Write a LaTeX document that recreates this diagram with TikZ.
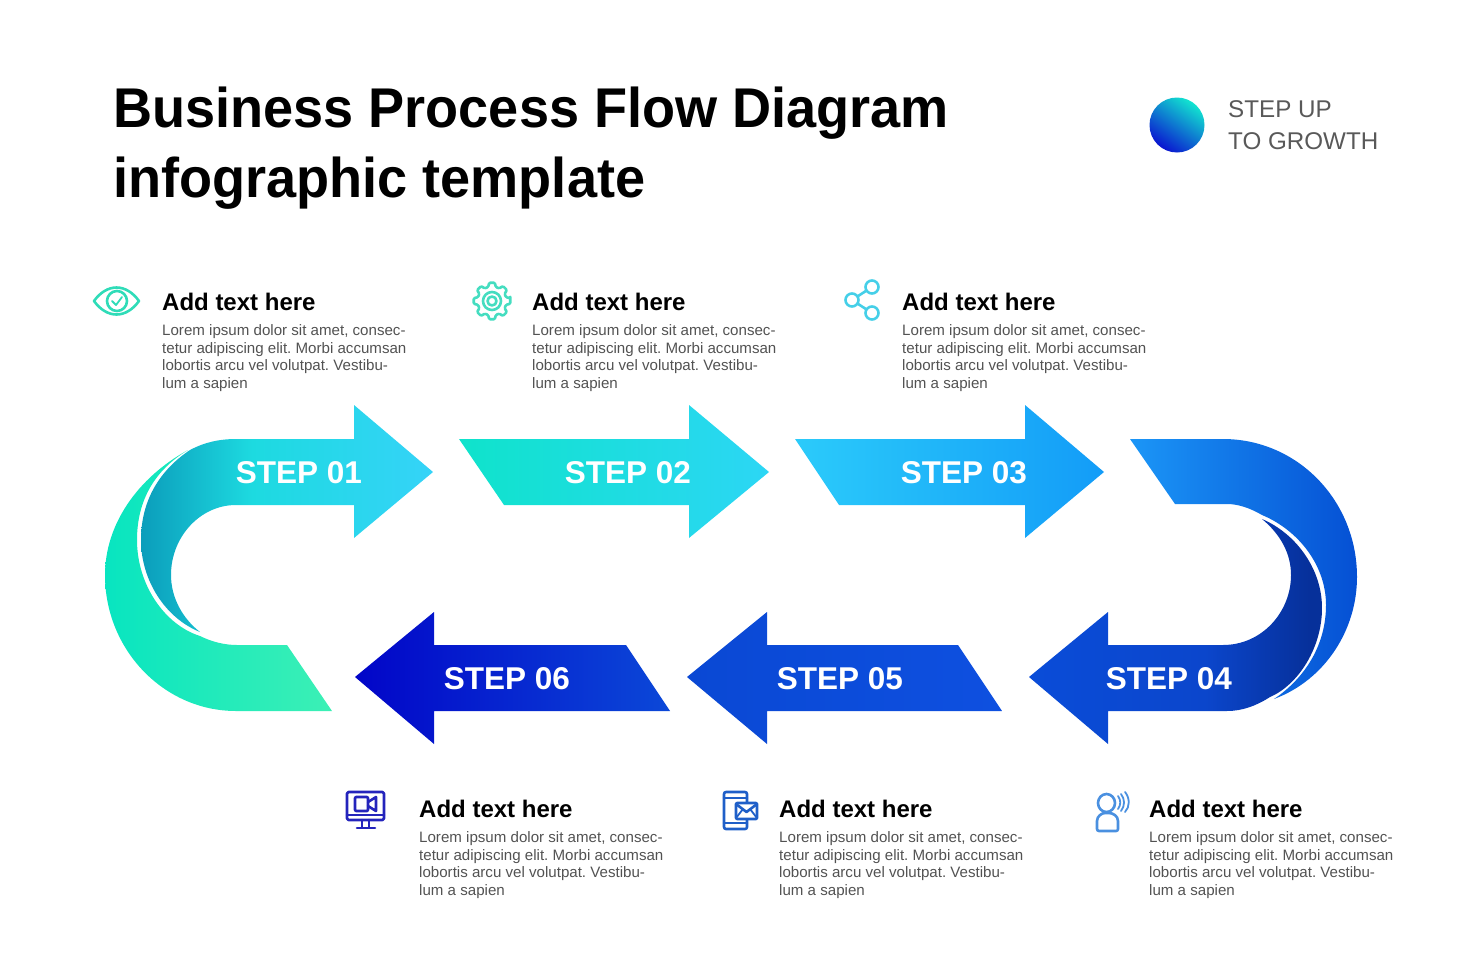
\documentclass[tikz,border=0pt]{standalone}
\usepackage{fontspec}
\setmainfont{Liberation Sans}
\newfontfamily\titlefont[FakeStretch=0.966]{Liberation Sans}
\usepackage{tikz}
\usetikzlibrary{positioning}
\definecolor{stepdarka}{HTML}{0A4CD8}
\definecolor{stepdarkb}{HTML}{0B46CC}
\definecolor{stepdarkc}{HTML}{06309A}
\definecolor{steptealc}{HTML}{0B9DBB}
\definecolor{steptealb}{HTML}{1DDAE0}
\definecolor{stepteala}{HTML}{35D3F8}
\pgfdeclarehorizontalshading{stepfourshade}{100bp}{color(0bp)=(stepdarka); color(25bp)=(stepdarka); color(55bp)=(stepdarkb); color(73bp)=(stepdarkc); color(100bp)=(stepdarkc)}
\pgfdeclarehorizontalshading{steponeshade}{100bp}{color(0bp)=(steptealc); color(25bp)=(steptealc); color(44bp)=(steptealb); color(75bp)=(stepteala); color(100bp)=(stepteala)}
\tikzset{>=latex}
\tikzset{
steplabel/.style={text=white, font=\bfseries\fontsize{31.5}{31.5}\selectfont, inner sep=0pt},
headtext/.style={anchor=base west, inner sep=0pt, font=\bfseries\fontsize{24}{24}\selectfont},
bodytext/.style={anchor=north west, inner sep=0pt, align=left, text=black!68, font=\frenchspacing\fontsize{15.1}{17.6}\selectfont},
iconline/.style={line width=2.6pt, line join=round, line cap=round, fill=none},
sharedot/.style={circle, draw=sharecol, line width=2.6pt, minimum size=13pt, inner sep=0pt},
}
\definecolor{eyecol}{HTML}{2FDCB8}
\definecolor{gearcol}{HTML}{45DDC0}
\definecolor{sharecol}{HTML}{45CFE8}
\definecolor{monitorcol}{HTML}{2424BC}
\definecolor{mailcol}{HTML}{1F5FC8}
\definecolor{personcol}{HTML}{4A90E0}
\definecolor{logotop}{HTML}{12E5D0}
\definecolor{logobottom}{HTML}{0A14D0}
\newcommand{\loremtext}{Lorem ipsum dolor sit amet, consec-\\tetur adipiscing elit. Morbi accumsan\\lobortis arcu vel volutpat. Vestibu-\\lum a sapien}
\begin{document}
\begin{tikzpicture}[x=1pt, y=-1pt]
\useasboundingbox (0,0) rectangle (1470,980);
% title
\node[anchor=base west, inner sep=0pt, align=left, font=\titlefont\bfseries\fontsize{56}{70}\selectfont] (title) at (113,197) {Business Process Flow Diagram\\infographic template};
\shade[top color=logotop, bottom color=logobottom, shading angle=-35] (1177,125) circle (27.5);
\node[anchor=base west, inner sep=0pt, align=left, text=black!65, font=\fontsize{24.2}{32}\selectfont] (growth) at (1228,149.5) {STEP UP\\TO GROWTH};

% step 01 (green tail, then teal arrow)
\shade[left color={rgb,255:red,8;green,229;blue,192}, right color={rgb,255:red,60;green,240;blue,181}]
(332,711) -- (236,711) .. controls (164,711) and (105,650) .. (105,575)
.. controls (105,525) and (137,478) .. (188,450)
.. controls (155,470) and (137,500) .. (137,540)
.. controls (137,585) and (165,625) .. (200,636)
.. controls (212,642) and (225,645) .. (237,645) -- (287,645) -- cycle;
\shade[shading=steponeshade]
(433,472) -- (354,405) -- (354,439) -- (236,439)
.. controls (220,439) and (205,442) .. (190,450)
.. controls (160,470) and (141,500) .. (141,540)
.. controls (141,580) and (165,618) .. (200,632)
.. controls (182,618) and (171,597) .. (171,575)
.. controls (171,537) and (200,505) .. (236,505)
-- (354,505) -- (354,538) -- cycle;

% step 02 and 03
\shade[left color={rgb,255:red,15;green,227;blue,203}, right color={rgb,255:red,44;green,214;blue,245}]
(459,439) -- (689,439) -- (689,405) -- (769,472) -- (689,538) -- (689,505) -- (504,505) -- cycle;
\shade[left color={rgb,255:red,43;green,203;blue,250}, right color={rgb,255:red,19;green,156;blue,248}]
(795,439) -- (1025,439) -- (1025,405) -- (1104,472) -- (1025,538) -- (1025,505) -- (839,505) -- cycle;

% step 04 (blue tail, then dark arrow)
\shade[left color={rgb,255:red,27;green,150;blue,247}, right color={rgb,255:red,5;green,80;blue,212}]
(1130,439) -- (1223,439) .. controls (1297,439) and (1357,500) .. (1357,577)
.. controls (1357,630) and (1325,680) .. (1274,699)
.. controls (1305,678) and (1326,645) .. (1326,605)
.. controls (1326,565) and (1298,530) .. (1262,515)
.. controls (1250,508) and (1238,504) .. (1227,504) -- (1175,504) -- cycle;
\shade[shading=stepfourshade]
(1029,677) -- (1108,612) -- (1108,645) -- (1223,645)
.. controls (1262,645) and (1291,612) .. (1291,575)
.. controls (1291,553) and (1280,534) .. (1262,519)
.. controls (1295,533) and (1322,568) .. (1322,608)
.. controls (1322,648) and (1298,685) .. (1270,697)
.. controls (1256,706) and (1242,711) .. (1227,711)
-- (1108,711) -- (1108,744) -- cycle;

% step 05 and 06
\shade[left color={rgb,255:red,10;green,72;blue,212}, right color={rgb,255:red,14;green,80;blue,224}]
(687,677) -- (767,612) -- (767,645) -- (958,645) -- (1002,711) -- (767,711) -- (767,744) -- cycle;
\shade[left color={rgb,255:red,2;green,5;blue,200}, middle color={rgb,255:red,2;green,8;blue,200}, right color={rgb,255:red,11;green,72;blue,216}]
(355,677) -- (434,612) -- (434,645) -- (626,645) -- (670,711) -- (434,711) -- (434,744) -- cycle;

\node[steplabel] (stepA) at (299,473) {STEP 01};
\node[steplabel] (stepB) at (628,473) {STEP 02};
\node[steplabel] (stepC) at (964,473) {STEP 03};
\node[steplabel] (stepD) at (1169,679) {STEP 04};
\node[steplabel] (stepE) at (840,679) {STEP 05};
\node[steplabel] (stepF) at (507,679) {STEP 06};

% captions
\foreach \tag/\x/\y in {A/162/310, B/532/310, C/902/310, D/419/817, E/779/817, F/1149/817}
{
\node[headtext] (head\tag) at (\x,\y) {Add text here};
\node[bodytext, below=14pt of head\tag.south west, anchor=north west] (body\tag) {\loremtext};
}

% eye
\draw[iconline, draw=eyecol] (94,301) .. controls (107,283) and (126,283) .. (139,301) .. controls (126,319) and (107,319) .. (94,301) -- cycle;
\draw[iconline, draw=eyecol] (117,301) circle (10);
\draw[iconline, draw=eyecol, line width=1.8pt] (112,301) -- (116,305) -- (122,297);

% gear
\begin{scope}[shift={(492,301)}]
\draw[iconline, draw=gearcol, rounded corners=1.2pt] (-9:18.5) foreach \a in {0,45,...,315} { -- ({\a-9}:18.5) -- ({\a+9}:18.5) -- ({\a+15}:14.5) -- ({\a+30}:14.5) } -- cycle;
\draw[iconline, draw=gearcol] (0,0) circle (9);
\draw[iconline, draw=gearcol] (0,0) circle (4.5);
\end{scope}

% share
\node[sharedot] (shareA) at (872,287) {};
\node[sharedot] (shareB) at (852,300) {};
\node[sharedot] (shareC) at (872,313) {};
\draw[iconline, draw=sharecol] (shareB) -- (shareA);
\draw[iconline, draw=sharecol] (shareB) -- (shareC);

% monitor
\draw[iconline, draw=monitorcol, rounded corners=1.5pt] (347,792) rectangle (384,820);
\draw[iconline, draw=monitorcol] (347,815) -- (384,815);
\draw[iconline, draw=monitorcol, rounded corners=1pt] (355,797) rectangle (368,811);
\draw[iconline, draw=monitorcol] (368,802) -- (376,797) -- (376,811) -- (368,806);
\draw[iconline, draw=monitorcol] (362,820) -- (362,827) (369,820) -- (369,827) (357,828) -- (375,828);

% phone with mail
\draw[iconline, draw=mailcol, rounded corners=2pt] (724,792) rectangle (747,829);
\draw[iconline, draw=mailcol] (724,798) -- (747,798) (724,823) -- (747,823);
\draw[iconline, draw=mailcol, fill=white, rounded corners=1pt] (736,803) rectangle (757,819);
\draw[iconline, draw=mailcol] (736,804) -- (746.5,812) -- (757,804);
\draw[iconline, draw=mailcol, line width=1.8pt] (736,818) -- (743,809) (757,818) -- (750,809);

% person
\draw[iconline, draw=personcol] (1106.5,803) ellipse (8.5 and 9);
\draw[iconline, draw=personcol, rounded corners=2pt] (1097,831) -- (1097,823) .. controls (1097,816) and (1102,813) .. (1107,813) .. controls (1113,813) and (1118,816) .. (1118,823) -- (1118,831) -- cycle;
\draw[iconline, draw=personcol, line width=1.8pt] (1118,796) .. controls (1121,800) and (1121,805) .. (1118,809);
\draw[iconline, draw=personcol, line width=1.8pt] (1121,794) .. controls (1125,799) and (1125,806) .. (1121,811);
\draw[iconline, draw=personcol, line width=1.8pt] (1125,792) .. controls (1130,798) and (1130,807) .. (1125,812);
\end{tikzpicture}
\end{document}
